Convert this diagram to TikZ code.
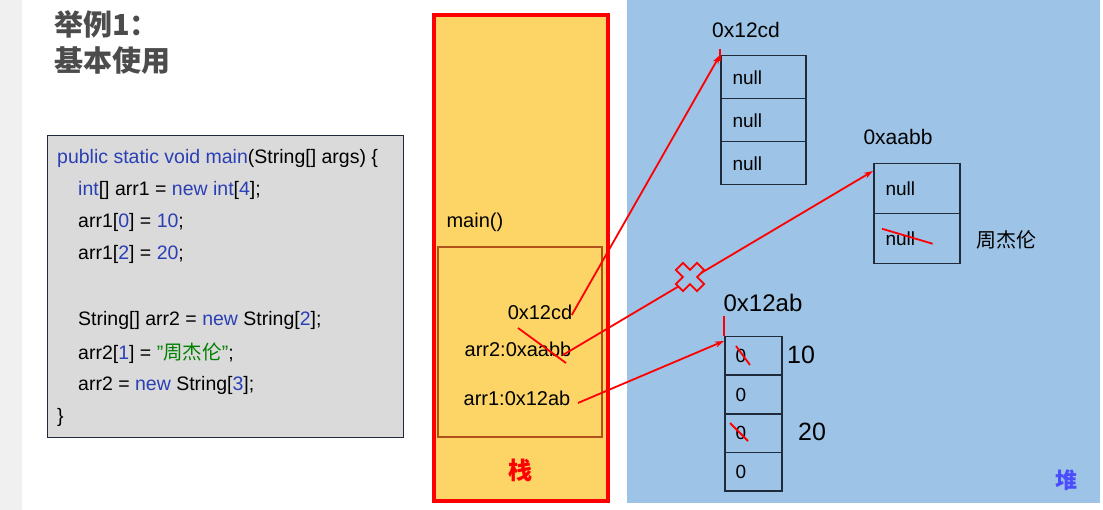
\documentclass[tikz,border=0pt]{standalone}
\usepackage{fontspec}
\setmainfont{Liberation Sans}
\newfontfamily\cjk{Noto Sans CJK SC}
\usetikzlibrary{arrows.meta}
\definecolor{kw}{HTML}{2A3FB5}
\definecolor{stk}{HTML}{FDD567}
\definecolor{heap}{HTML}{9DC3E6}
\definecolor{codebg}{HTML}{DADADA}
\definecolor{ink}{HTML}{1F2A3A}
\definecolor{brn}{HTML}{B0521A}
\tikzset{
 code/.style={anchor=west,font=\fontsize{19.5pt}{21pt}\selectfont,inner sep=0pt},
 cell/.style={draw=ink,line width=1.5pt,minimum width=#1,minimum height=43pt,inner sep=0pt,anchor=north west},
 celltxt/.style={font=\fontsize{19pt}{21pt}\selectfont},
 lbl/.style={font=\fontsize{20pt}{22pt}\selectfont},
 ref/.style={red,line width=1.8pt,-{Stealth[length=9pt,width=6pt]}},
 strike/.style={red,line width=1.8pt},
}
\begin{document}
\begin{tikzpicture}[x=1pt,y=-1pt]
\useasboundingbox (0,0) rectangle (1103,510);
\fill[white] (0,0) rectangle (1103,510);
\fill[black!6] (0,0) rectangle (22,510);
% title
\node[anchor=north west,align=left,font=\cjk\bfseries\fontsize{29pt}{36pt}\selectfont,text=black!70,inner sep=0pt] (title) at (54,10) {举例1：\\基本使用};
% code
\node[draw=ink,fill=codebg,line width=1.3pt,minimum width=356pt,minimum height=302pt,anchor=north west,inner sep=0pt] (codebox) at (47,135) {};
\node[code] (c1) at (57,158) {\textcolor{kw}{public static void main}(String[] args) \{};
\node[code] (c2) at (78,190) {\textcolor{kw}{int}[] arr1 = \textcolor{kw}{new int}[\textcolor{kw}{4}];};
\node[code] (c3) at (78,222) {arr1[\textcolor{kw}{0}] = \textcolor{kw}{10};};
\node[code] (c4) at (78,254) {arr1[\textcolor{kw}{2}] = \textcolor{kw}{20};};
\node[code] (c5) at (78,320) {String[] arr2 = \textcolor{kw}{new} String[\textcolor{kw}{2}];};
\node[code] (c6) at (78,353) {arr2[\textcolor{kw}{1}] = \textcolor{green!50!black}{"{\cjk 周杰伦}"};};
\node[code] (c7) at (78,385) {arr2 = \textcolor{kw}{new} String[\textcolor{kw}{3}];};
\node[code] (c8) at (57,417) {\}};
% stack
\node[draw=red,fill=stk,line width=4pt,minimum width=174pt,minimum height=486pt,anchor=north west,inner sep=0pt] (stack) at (432,13) {};
\node[lbl,anchor=west] (mainlbl) at (443,222) {main()};
\node[draw=brn,line width=1.8pt,minimum width=164pt,minimum height=190pt,anchor=north west,inner sep=0pt] (frame) at (437,246) {};
\node[font=\cjk\bfseries\fontsize{24pt}{26pt}\selectfont,text=red] (zhan) at (520,470) {栈};
\node[lbl] (s1) at (540,312) {0x12cd};
\node[lbl] (s2) at (518,349) {arr2:0xaabb};
\node[lbl] (s3) at (517,398) {arr1:0x12ab};
% heap
\node[fill=heap,minimum width=473pt,minimum height=503pt,anchor=north west,inner sep=0pt] (heapbox) at (627,0) {};
\node[font=\cjk\bfseries\fontsize{22pt}{24pt}\selectfont,text=blue!70!white] (dui) at (1066,480) {堆};
% array 0x12cd
\node[font=\fontsize{21pt}{23pt}\selectfont] (a1lbl) at (746,30) {0x12cd};
\node[cell=85pt] (a1c1) at (720,55) {};
\node[cell=85pt] (a1c2) at (720,98) {};
\node[cell=85pt] (a1c3) at (720,141) {};
\foreach \n in {a1c1,a1c2,a1c3} \node[celltxt,anchor=west] at ([xshift=9pt]\n.west) {null};
% array 0xaabb
\node[font=\fontsize{21pt}{23pt}\selectfont] (a2lbl) at (898,137) {0xaabb};
\node[cell=86pt,minimum height=50pt] (a2c1) at (873,163) {};
\node[cell=86pt,minimum height=50pt] (a2c2) at (873,213) {};
\node[celltxt,anchor=west] (a2t1) at ([xshift=9pt]a2c1.west) {null};
\node[celltxt,anchor=west] (a2t2) at ([xshift=9pt]a2c2.west) {null};
\node[font=\cjk\fontsize{20pt}{22pt}\selectfont] (zjl) at (1006,240) {周杰伦};
% array 0x12ab
\node[font=\fontsize{24pt}{26pt}\selectfont] (a3lbl) at (763,303) {0x12ab};
\node[cell=57pt,minimum height=38.5pt] (a3c1) at (724,336) {};
\node[cell=57pt,minimum height=38.5pt] (a3c2) at (724,374.5) {};
\node[cell=57pt,minimum height=38.5pt] (a3c3) at (724,413) {};
\node[cell=57pt,minimum height=38.5pt] (a3c4) at (724,451.5) {};
\foreach \n in {a3c1,a3c2,a3c3,a3c4} \node[celltxt,anchor=west] at ([xshift=8pt]\n.west) {0};
\node[font=\fontsize{25pt}{27pt}\selectfont] (v10) at (801,355) {10};
\node[font=\fontsize{25pt}{27pt}\selectfont] (v20) at (812,432) {20};
% references
\draw[ref] ([xshift=-4pt,yshift=-3pt]s1.east) -- (a1c1.north west);
\draw[ref] ([xshift=-12pt,yshift=-6pt]s2.east) -- ([yshift=-8pt]a2c1.north west);
\draw[ref] ([xshift=4pt,yshift=-5pt]s3.east) -- ([yshift=-5pt]a3c1.north west);
\draw[strike] ([yshift=6pt]a1c1.north west) -- ([yshift=-6pt]a1c1.north west);
\draw[strike] ([yshift=20pt]a3c1.north west) -- (a3c1.north west);
% strikes
\draw[strike] ([yshift=21pt]s2.center) -- ([xshift=48pt,yshift=-14pt]s2.center);
\draw[strike] ([xshift=0pt,yshift=10pt]a2t2.west) -- ([xshift=14pt,yshift=-5pt]a2t2.east);
\draw[strike] ([xshift=12pt,yshift=10pt]a3c1.west) -- ([xshift=26pt,yshift=-9pt]a3c1.west);
\draw[strike] ([xshift=6pt,yshift=10pt]a3c3.west) -- ([xshift=24pt,yshift=-8pt]a3c3.west);
% cross
\coordinate (cross) at (690,277);
\draw[red,line width=1.8pt,fill=heap,shift={(cross)},rotate=45]
 (-5,-15)--(5,-15)--(5,-5)--(15,-5)--(15,5)--(5,5)--(5,15)--(-5,15)--(-5,5)--(-15,5)--(-15,-5)--(-5,-5)--cycle;
\end{tikzpicture}
\end{document}
